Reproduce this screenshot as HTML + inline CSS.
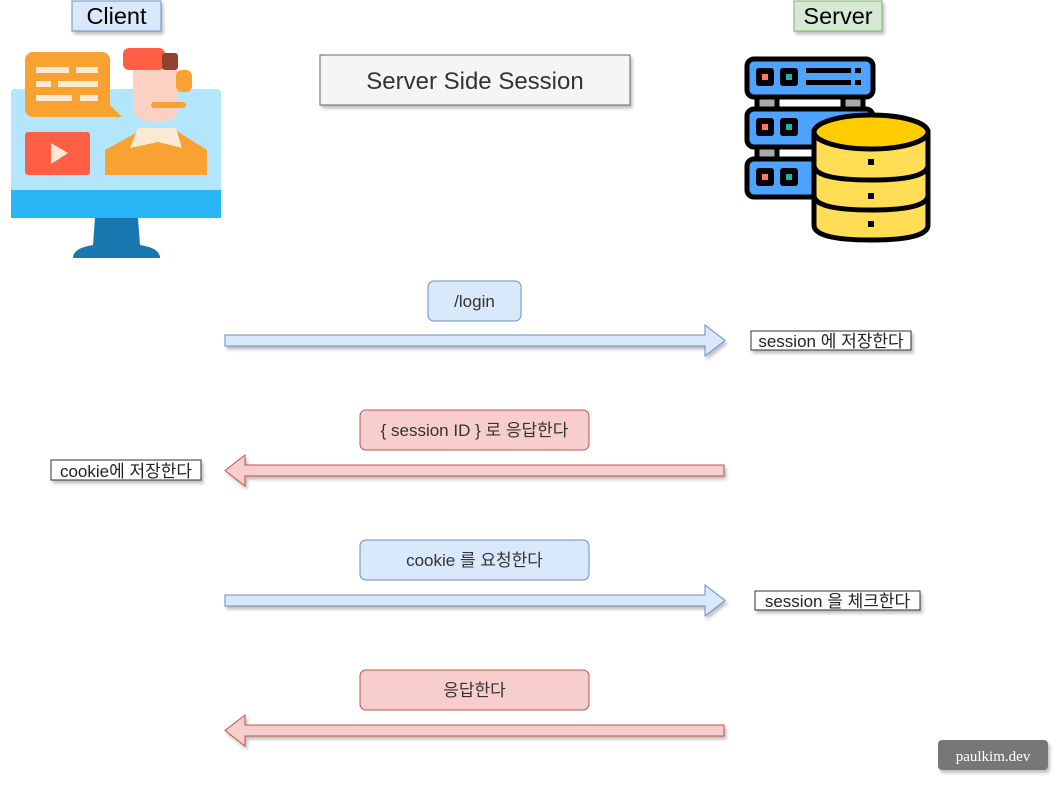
<!DOCTYPE html>
<html><head><meta charset="utf-8"><style>
body{margin:0;background:#fff;width:1060px;height:782px;overflow:hidden;font-family:"Liberation Sans","Noto Sans CJK KR",sans-serif}
</style></head><body>
<svg width="1060" height="782" xmlns="http://www.w3.org/2000/svg" font-family="Liberation Sans, Noto Sans CJK KR, sans-serif">
<defs><filter id="sh" x="-10%" y="-10%" width="130%" height="140%"><feDropShadow dx="2" dy="3" stdDeviation="1.5" flood-color="#000" flood-opacity="0.25"/></filter></defs>
<!-- labels -->
<rect x="72" y="1" width="89" height="30" fill="#dae8fc" stroke="#6c8ebf" filter="url(#sh)"/>
<text x="116.5" y="24" font-size="23.5" text-anchor="middle">Client</text>
<rect x="794" y="1" width="88" height="30" fill="#d5e8d4" stroke="#82b366" filter="url(#sh)"/>
<text x="838" y="24" font-size="23.5" text-anchor="middle">Server</text>
<rect x="320" y="55" width="310" height="50" fill="#f5f5f5" stroke="#666" filter="url(#sh)"/>
<text x="475" y="89" font-size="24" text-anchor="middle" fill="#333">Server Side Session</text>
<!-- client icon -->
<rect x="11" y="89" width="210" height="129" rx="4" fill="#b3e5fc"/>
<rect x="11" y="190" width="210" height="28" fill="#29b6f6"/>
<path d="M95 218 H138 L140 245 Q160 248 160 258 H73 Q73 248 93 245 Z" fill="#1a78b0"/>
<rect x="25" y="52" width="85" height="65" rx="8" fill="#f9a231"/>
<path d="M105 100 L122 117 H100 Z" fill="#f9a231"/>
<rect x="36" y="67" width="33" height="6" fill="#fce9d4"/><rect x="76" y="67" width="22" height="6" fill="#fce9d4"/>
<rect x="36" y="81" width="15" height="6" fill="#fce9d4"/><rect x="58" y="81" width="40" height="6" fill="#fce9d4"/>
<rect x="36" y="95" width="36" height="6" fill="#fce9d4"/><rect x="80" y="95" width="18" height="6" fill="#fce9d4"/>
<rect x="25" y="132" width="65" height="43" rx="3" fill="#ff5f45"/>
<path d="M51 143 L68 153 L51 164 Z" fill="#fce9d4"/>
<path d="M105 175 V150 L145 128 H172 L207 150 V175 Z" fill="#f9a231"/>
<path d="M130 148 L158 142 L182 148 L176 128 H138 Z" fill="#fce9d4"/>
<path d="M133 70 H178 V108 Q178 122 158 122 Q133 122 133 108 Z" fill="#fdd0c4"/>
<rect x="123" y="48" width="42" height="22" rx="6" fill="#ff5f45"/><rect x="162" y="53" width="16" height="17" rx="3" fill="#944031"/>
<rect x="176" y="70" width="16" height="22" rx="6" fill="#f9a231"/><rect x="151" y="102" width="35" height="6" rx="3" fill="#f9a231"/>
<!-- server icon -->
<g stroke="#000" stroke-width="5">
<rect x="757" y="97" width="20" height="12" fill="#aaa"/><rect x="843" y="97" width="20" height="12" fill="#aaa"/>
<rect x="757" y="147" width="20" height="12" fill="#aaa"/>
<rect x="747" y="59" width="126" height="38" rx="7" fill="#4da3ff"/>
<rect x="747" y="109" width="126" height="38" rx="7" fill="#4da3ff"/>
<rect x="747" y="159" width="126" height="38" rx="7" fill="#4da3ff"/>
</g>
<g fill="#000">
<rect x="756" y="68" width="18" height="18" rx="3"/><rect x="780" y="68" width="18" height="18" rx="3"/>
<rect x="756" y="118" width="18" height="18" rx="3"/><rect x="780" y="118" width="18" height="18" rx="3"/>
<rect x="756" y="168" width="18" height="18" rx="3"/><rect x="780" y="168" width="18" height="18" rx="3"/>
<rect x="806" y="68" width="45" height="5"/><rect x="806" y="80" width="45" height="5"/><rect x="855" y="68" width="6" height="5"/><rect x="855" y="80" width="6" height="5"/>
</g>
<g fill="#ff7a59"><rect x="762" y="74" width="6" height="6"/><rect x="762" y="124" width="6" height="6"/><rect x="762" y="174" width="6" height="6"/></g>
<g fill="#1ab3a6"><rect x="786" y="74" width="6" height="6"/><rect x="786" y="124" width="6" height="6"/><rect x="786" y="174" width="6" height="6"/></g>
<g stroke="#000" stroke-width="5">
<path d="M814 132 V225 Q814 240 871 240 Q928 240 928 225 V132 Z" fill="#ffdd55"/>
<path d="M814 165 Q814 180 871 180 Q928 180 928 165 M814 195 Q814 210 871 210 Q928 210 928 195" fill="none"/>
<ellipse cx="871" cy="132" rx="57" ry="17" fill="#ffcc00"/>
</g>
<g fill="#000"><rect x="868" y="159" width="6" height="6"/><rect x="868" y="193" width="6" height="6"/><rect x="868" y="221" width="6" height="6"/></g>
<!-- message boxes -->
<rect x="428" y="281" width="93" height="40" rx="6" fill="#dae8fc" stroke="#6c8ebf"/>
<text x="474.5" y="307" font-size="17" text-anchor="middle" fill="#333">/login</text>
<rect x="360" y="410" width="229" height="40" rx="6" fill="#f8cecc" stroke="#b85450"/>
<text x="474.5" y="436" font-size="17" text-anchor="middle" fill="#333">{ session ID } 로 응답한다</text>
<rect x="360" y="540" width="229" height="40" rx="6" fill="#dae8fc" stroke="#6c8ebf"/>
<text x="474.5" y="566" font-size="17" text-anchor="middle" fill="#333">cookie 를 요청한다</text>
<rect x="360" y="670" width="229" height="40" rx="6" fill="#f8cecc" stroke="#b85450"/>
<text x="474.5" y="696" font-size="17" text-anchor="middle" fill="#333">응답한다</text>
<!-- arrows -->
<path d="M225 335 H705 V325 L725 340.5 L705 356 V346 H225 Z" fill="#dae8fc" stroke="#6c8ebf" filter="url(#sh)"/>
<path d="M724 465 H245 V455 L225 470.5 L245 486 V476 H724 Z" fill="#f8cecc" stroke="#b85450" filter="url(#sh)"/>
<path d="M225 595 H705 V585 L725 600.5 L705 616 V606 H225 Z" fill="#dae8fc" stroke="#6c8ebf" filter="url(#sh)"/>
<path d="M724 725 H245 V715 L225 730.5 L245 746 V736 H724 Z" fill="#f8cecc" stroke="#b85450" filter="url(#sh)"/>
<!-- side labels -->
<rect x="751" y="331" width="160" height="19" fill="#fff" stroke="#333" filter="url(#sh)"/>
<text x="831" y="347" font-size="17" text-anchor="middle" fill="#222">session 에 저장한다</text>
<rect x="51" y="460" width="150" height="20" fill="#fff" stroke="#333" filter="url(#sh)"/>
<text x="126" y="477" font-size="17" text-anchor="middle" fill="#222">cookie에 저장한다</text>
<rect x="755" y="591" width="165" height="19" fill="#fff" stroke="#333" filter="url(#sh)"/>
<text x="837.5" y="607" font-size="17" text-anchor="middle" fill="#222">session 을 체크한다</text>
<rect x="938" y="740" width="110" height="30" rx="4" fill="#777" filter="url(#sh)"/>
<text x="993" y="761" font-size="15" text-anchor="middle" fill="#fff" font-family="Liberation Serif, serif">paulkim.dev</text>
</svg>
</body></html>
